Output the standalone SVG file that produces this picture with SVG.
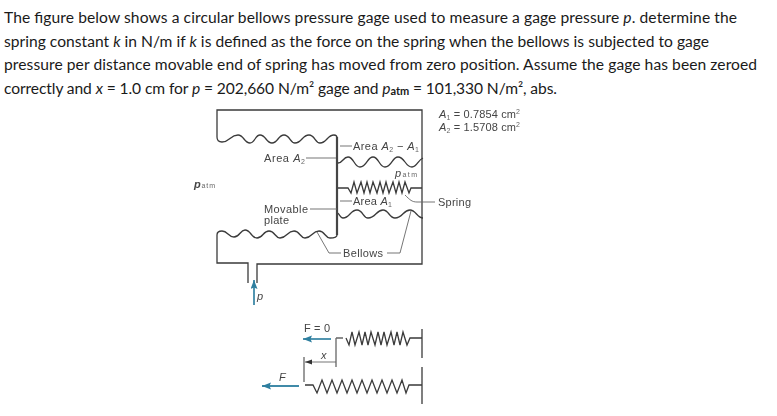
<svg xmlns="http://www.w3.org/2000/svg" width="777" height="416" viewBox="0 0 777 416">
<style>
.q{font-family:"Lato","Carlito","Liberation Sans",sans-serif;font-size:15.6px;fill:#1a1a1a}
.l{font-family:"Liberation Sans",Arial,sans-serif;font-size:11px;fill:#444}
.s{font-size:7px;fill:#666}
.st{fill:none;stroke:#3a3a3a;stroke-width:1.3}
.pl{fill:none;stroke:#444;stroke-width:2.2}
.ld{fill:none;stroke:#666;stroke-width:.9}
.ar{fill:none;stroke:#3f8aa8;stroke-width:1.8}
</style>
<defs>
<filter id="soft" x="-5%" y="-5%" width="110%" height="110%"><feGaussianBlur stdDeviation="0.35"/></filter>
<marker id="teal" markerUnits="userSpaceOnUse" markerWidth="10" markerHeight="8" refX="9" refY="3.5" orient="auto"><path d="M0 0L9 3.5L0 7L1.5 3.5Z" fill="#2f7f9f"/></marker>
<marker id="dk" markerUnits="userSpaceOnUse" markerWidth="8" markerHeight="6" refX="7" refY="2.5" orient="auto"><path d="M0 0L7 2.5L0 5Z" fill="#333"/></marker>
</defs>
<rect width="777" height="416" fill="#fff"/>
<g id="question">
<text class="q" x="4" y="23" textLength="733">The figure below shows a circular bellows pressure gage used to measure a gage pressure <tspan font-style="italic">p</tspan>. determine the</text>
<text class="q" x="4" y="46.500" textLength="705">spring constant <tspan font-style="italic">k</tspan> in N/m if <tspan font-style="italic">k</tspan> is defined as the force on the spring when the bellows is subjected to gage</text>
<text class="q" x="4" y="70" textLength="753">pressure per distance movable end of spring has moved from zero position. Assume the gage has been zeroed</text>
<text class="q" x="4" y="93.500" textLength="553">correctly and <tspan font-style="italic">x</tspan> = 1.0 cm for <tspan font-style="italic">p</tspan> = 202,660 N/m² gage and <tspan font-style="italic">p</tspan><tspan font-size="11" font-weight="700" dy="1.500">atm</tspan><tspan dy="-1.500"> = 101,330 N/m², abs.</tspan></text>
</g>
<g filter="url(#soft)">
<g id="housing">
<path class="st" d="M217 137V110H422V264H257V283M248 283V263H217V235"/>
</g>
<g id="bellows">
<path class="st" d="M217 137C217 140 219 142 222 142C230 142 230 135 238 135C244 135 244 143 250 143C255 143 255 135 260 135C266 135 266 143 272 143C278 143 278 135 284 135C290 135 290 143 295 143C302 143 302 135 309 135C315 135 315 143 320 143C327 143 327 135 334 135C336 135 337 136 337 138"/>
<path class="st" d="M217 235C217 232 219 231 222 231C228 231 228 237 234 237C240 237 240 230 245 230C251 230 251 238 257 238C263 238 263 231 269 231C275 231 275 238 280 238C287 238 287 231 294 231C300 231 300 238 305 238C312 238 312 231 319 231C325 231 325 238 330 238C335 238 337 237 337 235"/>
<path class="st" d="M338 163C343 163 343 157 348 157C354 157 354 167 360 167C367 167 367 157 373 157C379 157 379 167 385 167C392 167 392 157 398 157C405 157 405 167 412 167C417 167 418 160 423 158"/>
<path class="st" d="M338 213C340 216 341 218 343 218C350 218 350 210 357 210C363 210 363 218 368 218C376 218 376 210 383 210C389 210 389 218 395 218C403 218 403 210 410 210C416 210 417 218 423 218"/>
</g>
<g id="plate"><path class="pl" d="M337 137V235"/></g>
<g id="spring">
<path class="st" d="M338 188H348L351 193L354 182L357 193L361 182L364 193L367 182L370 193L373 182L377 193L380 182L383 193L386 182L389 193L393 182L396 193L399 182L402 193L405 182L409 193L411 188H422"/>
</g>
<g id="leaders">
<path class="ld" d="M306 158H336M310 209H337M340 146H352M340 201H352M405 195C410 200 412 202 417 202H435M317 232L329 253H341M387 253H400L411 211"/>
</g>
<g id="labels">
<text class="l" x="264" y="162" textLength="41">Area <tspan font-style="italic">A</tspan><tspan class="s" dy="2">2</tspan></text>
<text class="l" x="264" y="213" textLength="44">Movable</text>
<text class="l" x="264" y="224" textLength="25">plate</text>
<text class="l" x="353" y="150" textLength="66">Area <tspan font-style="italic">A</tspan><tspan class="s" dy="2">2</tspan><tspan dy="-2"> − </tspan><tspan font-style="italic">A</tspan><tspan class="s" dy="2">1</tspan></text>
<text class="l" x="395" y="177" font-style="italic" textLength="22">p<tspan class="s" font-style="normal" dy="0">atm</tspan></text>
<text class="l" x="353" y="205" textLength="39">Area <tspan font-style="italic">A</tspan><tspan class="s" dy="2">1</tspan></text>
<text class="l" x="438" y="206" textLength="33">Spring</text>
<text class="l" x="343" y="257" textLength="40">Bellows</text>
<text class="l" x="194" y="188" font-style="italic" font-weight="700" textLength="21">p<tspan class="s" font-style="normal" font-weight="400" dy="0">atm</tspan></text>
<text class="l" x="439" y="118" textLength="81"><tspan font-style="italic">A</tspan><tspan class="s" dy="2">1</tspan><tspan dy="-2"> = 0.7854 cm</tspan><tspan class="s" dy="-4">2</tspan></text>
<text class="l" x="439" y="131" textLength="81"><tspan font-style="italic">A</tspan><tspan class="s" dy="2">2</tspan><tspan dy="-2"> = 1.5708 cm</tspan><tspan class="s" dy="-4">2</tspan></text>
<text class="l" x="257" y="300" font-style="italic">p</text>
</g>
<g id="connectors">
<path class="ar" marker-end="url(#teal)" d="M254 305V280"/>
<path class="ar" marker-end="url(#teal)" d="M331 339H303"/>
<path class="ar" marker-end="url(#teal)" d="M299 386H262"/>
<path class="ld" marker-end="url(#dk)" d="M336 362H305"/>
</g>
<g id="force-zero">
<text class="l" x="304" y="332" textLength="26">F = 0</text>
<text class="l" x="321" y="359" font-style="italic">x</text>
<path class="ld" style="stroke-width:1.300" d="M336 338H343M336 338V367M304 357V382"/>
<path class="st" d="M346 338L349 345L352 332L355 345L359 332L362 345L365 332L368 345L371 332L375 345L378 332L381 345L384 332L387 345L391 332L394 345L397 332L400 345L403 332L407 345L410 338H422M422 329V358"/>
</g>
<g id="force-f">
<text class="l" x="279" y="381" font-style="italic">F</text>
<path class="st" d="M305 385H313L317 393L322 380L327 393L332 380L337 393L342 380L347 393L352 380L357 393L362 380L367 393L372 380L377 393L382 380L387 393L392 380L397 393L402 380L406 393L409 385H422M422 367V404"/>
</g>
</g>
</svg>
